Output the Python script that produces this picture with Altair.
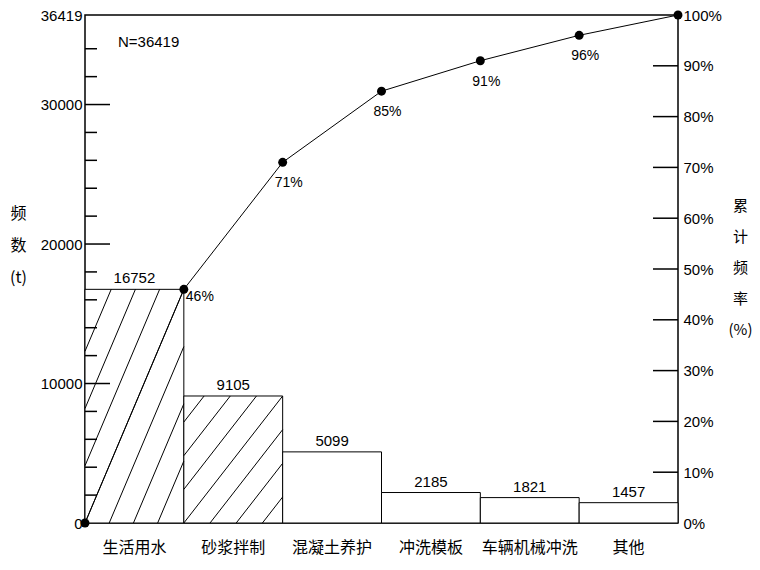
import altair as alt
import pandas as pd

categories = ["生活用水", "砂浆拌制", "混凝土养护", "冲洗模板", "车辆机械冲洗", "其他"]
counts = [16752, 9105, 5099, 2185, 1821, 1457]
cum_labels = ["46%", "71%", "85%", "91%", "96%", "100%"]
total = 36419
left_tick_labels = [0, 10000, 20000, 30000, 36419]
left_major_ticks = [10000, 20000, 30000]
left_minor_ticks = [2000, 4000, 6000, 8000, 12000, 14000, 16000, 18000,
                    22000, 24000, 26000, 28000, 32000, 34000]
right_tick_values = [0, 10, 20, 30, 40, 50, 60, 70, 80, 90, 100]
right_inner_ticks = [10, 20, 30, 40, 50, 60, 70, 80, 90]
hatched_bars = [0, 1]

W, H = 593, 508
NUM_FONT = "Liberation Sans"
CJK_FONT = "Noto Sans CJK SC"

# ---- derived tables ----
bars_df = pd.DataFrame({
    "x0": list(range(len(categories))),
    "x1": [i + 1 for i in range(len(categories))],
    "xc": [i + 0.5 for i in range(len(categories))],
    "count": counts,
    "cat": categories,
})
cum = []
s = 0
for c in counts:
    s += c
    cum.append(s)
line_df = pd.DataFrame({"xpos": list(range(len(counts) + 1)), "cum": [0] + cum})
lab_df = pd.DataFrame({"xpos": list(range(1, len(counts) + 1)), "cum": cum, "lab": cum_labels})
lab_first = lab_df.iloc[[0]]
lab_rest = lab_df.iloc[1:-1]

# hatch lines parallel to each hatched bar's diagonal
hatch_rows = []
spacing = {0: 0.245, 1: 0.265}
for i in hatched_bars:
    h = counts[i]
    sp = spacing[i]
    for k in range(-3, 4):
        sh = k * sp
        if sh >= 0:
            hatch_rows.append({"xa": i + sh, "ya": 0, "xb": i + 1, "yb": h * (1 - sh)})
        else:
            hatch_rows.append({"xa": i, "ya": -sh * h, "xb": i + 1 + sh, "yb": h})
hatch_df = pd.DataFrame(hatch_rows)

right_df = pd.DataFrame({"v": [p * total / 100 for p in right_inner_ticks]})

xs = alt.Scale(domain=[0, len(categories)], nice=False, zero=False)
ys = alt.Scale(domain=[0, total], nice=False)

left_axis = alt.Axis(orient="left", values=left_tick_labels, ticks=False, domain=False, grid=False,
                     labelFont=NUM_FONT, labelFontSize=15, labelPadding=3, labelColor="black",
                     labelOverlap=False, format="d",
                     title=["频", "数", "(t)"], titleAngle=0, titleX=-67, titleY=190,
                     titleAlign="center", titleBaseline="top", titleFont=CJK_FONT,
                     titleFontSize=16, titleFontWeight="normal", titleLineHeight=32,
                     titleColor="black")
right_axis = alt.Axis(orient="right", values=[p * total / 100 for p in right_tick_values],
                      labelExpr="round(datum.value / %d * 100) + '%%'" % total,
                      ticks=False, domain=False, grid=False, labelFont=NUM_FONT, labelFontSize=15,
                      labelPadding=5, labelColor="black", labelOverlap=False,
                      title=["累", "计", "频", "率", "(%)"], titleAngle=0, titleX=62, titleY=183,
                      titleAlign="center", titleBaseline="top", titleFont=CJK_FONT,
                      titleFontSize=15, titleFontWeight="normal", titleLineHeight=31,
                      titleColor="black")

bars = alt.Chart(bars_df).mark_rect(fill="white", stroke="black", strokeWidth=1).encode(
    x=alt.X("x0:Q", scale=xs, axis=None),
    x2="x1:Q",
    y=alt.Y("count:Q", scale=ys, axis=left_axis),
    y2=alt.datum(0),
)

cat_labels = alt.Chart(bars_df).mark_text(font=CJK_FONT, fontSize=16, baseline="middle",
                                          color="black").encode(
    x=alt.X("xc:Q", scale=xs, axis=None),
    y=alt.value(H + 25),
    text="cat:N",
)

hatch = alt.Chart(hatch_df).mark_rule(color="black", strokeWidth=1).encode(
    x=alt.X("xa:Q", scale=xs, axis=None), x2="xb:Q",
    y=alt.Y("ya:Q", scale=ys, axis=None), y2="yb:Q",
)

vals = alt.Chart(bars_df).mark_text(font=NUM_FONT, fontSize=15, baseline="bottom", dy=-3,
                                    color="black").encode(
    x=alt.X("xc:Q", scale=xs, axis=None),
    y=alt.Y("count:Q", scale=ys, axis=None),
    text="count:Q",
)

line = alt.Chart(line_df).mark_line(color="black", strokeWidth=1).encode(
    x=alt.X("xpos:Q", scale=xs, axis=None),
    y=alt.Y("cum:Q", scale=ys, axis=None),
)
pts = alt.Chart(line_df).mark_circle(color="black", size=80, opacity=1).encode(
    x=alt.X("xpos:Q", scale=xs, axis=None),
    y=alt.Y("cum:Q", scale=ys, axis=None),
)
plab1 = alt.Chart(lab_first).mark_text(font=NUM_FONT, fontSize=14, align="left", dx=2, dy=8,
                                      color="black").encode(
    x=alt.X("xpos:Q", scale=xs, axis=None),
    y=alt.Y("cum:Q", scale=ys, axis=None),
    text="lab:N",
)
plabs = alt.Chart(lab_rest).mark_text(font=NUM_FONT, fontSize=14, align="center", dx=6, dy=21,
                                     color="black").encode(
    x=alt.X("xpos:Q", scale=xs, axis=None),
    y=alt.Y("cum:Q", scale=ys, axis=None),
    text="lab:N",
)

major = alt.Chart(pd.DataFrame({"v": left_major_ticks})).mark_rule(color="black", strokeWidth=1.5).encode(
    y=alt.Y("v:Q", scale=ys, axis=None), x=alt.value(0), x2=alt.value(25))
minor = alt.Chart(pd.DataFrame({"v": left_minor_ticks})).mark_rule(color="black", strokeWidth=1.5).encode(
    y=alt.Y("v:Q", scale=ys, axis=None), x=alt.value(0), x2=alt.value(12))

right_ticks = alt.Chart(right_df).mark_rule(color="black", strokeWidth=1.5).encode(
    y=alt.Y("v:Q", scale=ys, axis=right_axis),
    x=alt.value(W - 25), x2=alt.value(W),
)

ntext = alt.Chart(pd.DataFrame({"t": ["N=" + str(total)]})).mark_text(
    font=NUM_FONT, fontSize=15, align="left", baseline="middle", color="black").encode(
    x=alt.value(33), y=alt.value(27), text="t:N")

chart = alt.layer(bars, hatch, vals, line, pts, plab1, plabs, major, minor, right_ticks, ntext,
                  cat_labels
).resolve_axis(y="independent").properties(
    width=W, height=H,
    autosize=alt.AutoSizeParams(type="none"),
    padding={"left": 77, "top": 7, "right": 74, "bottom": 38},
    background="white",
).configure_view(stroke="black", strokeWidth=1.5)

chart.save("out.html", embed_options={"renderer": "svg", "actions": False})
